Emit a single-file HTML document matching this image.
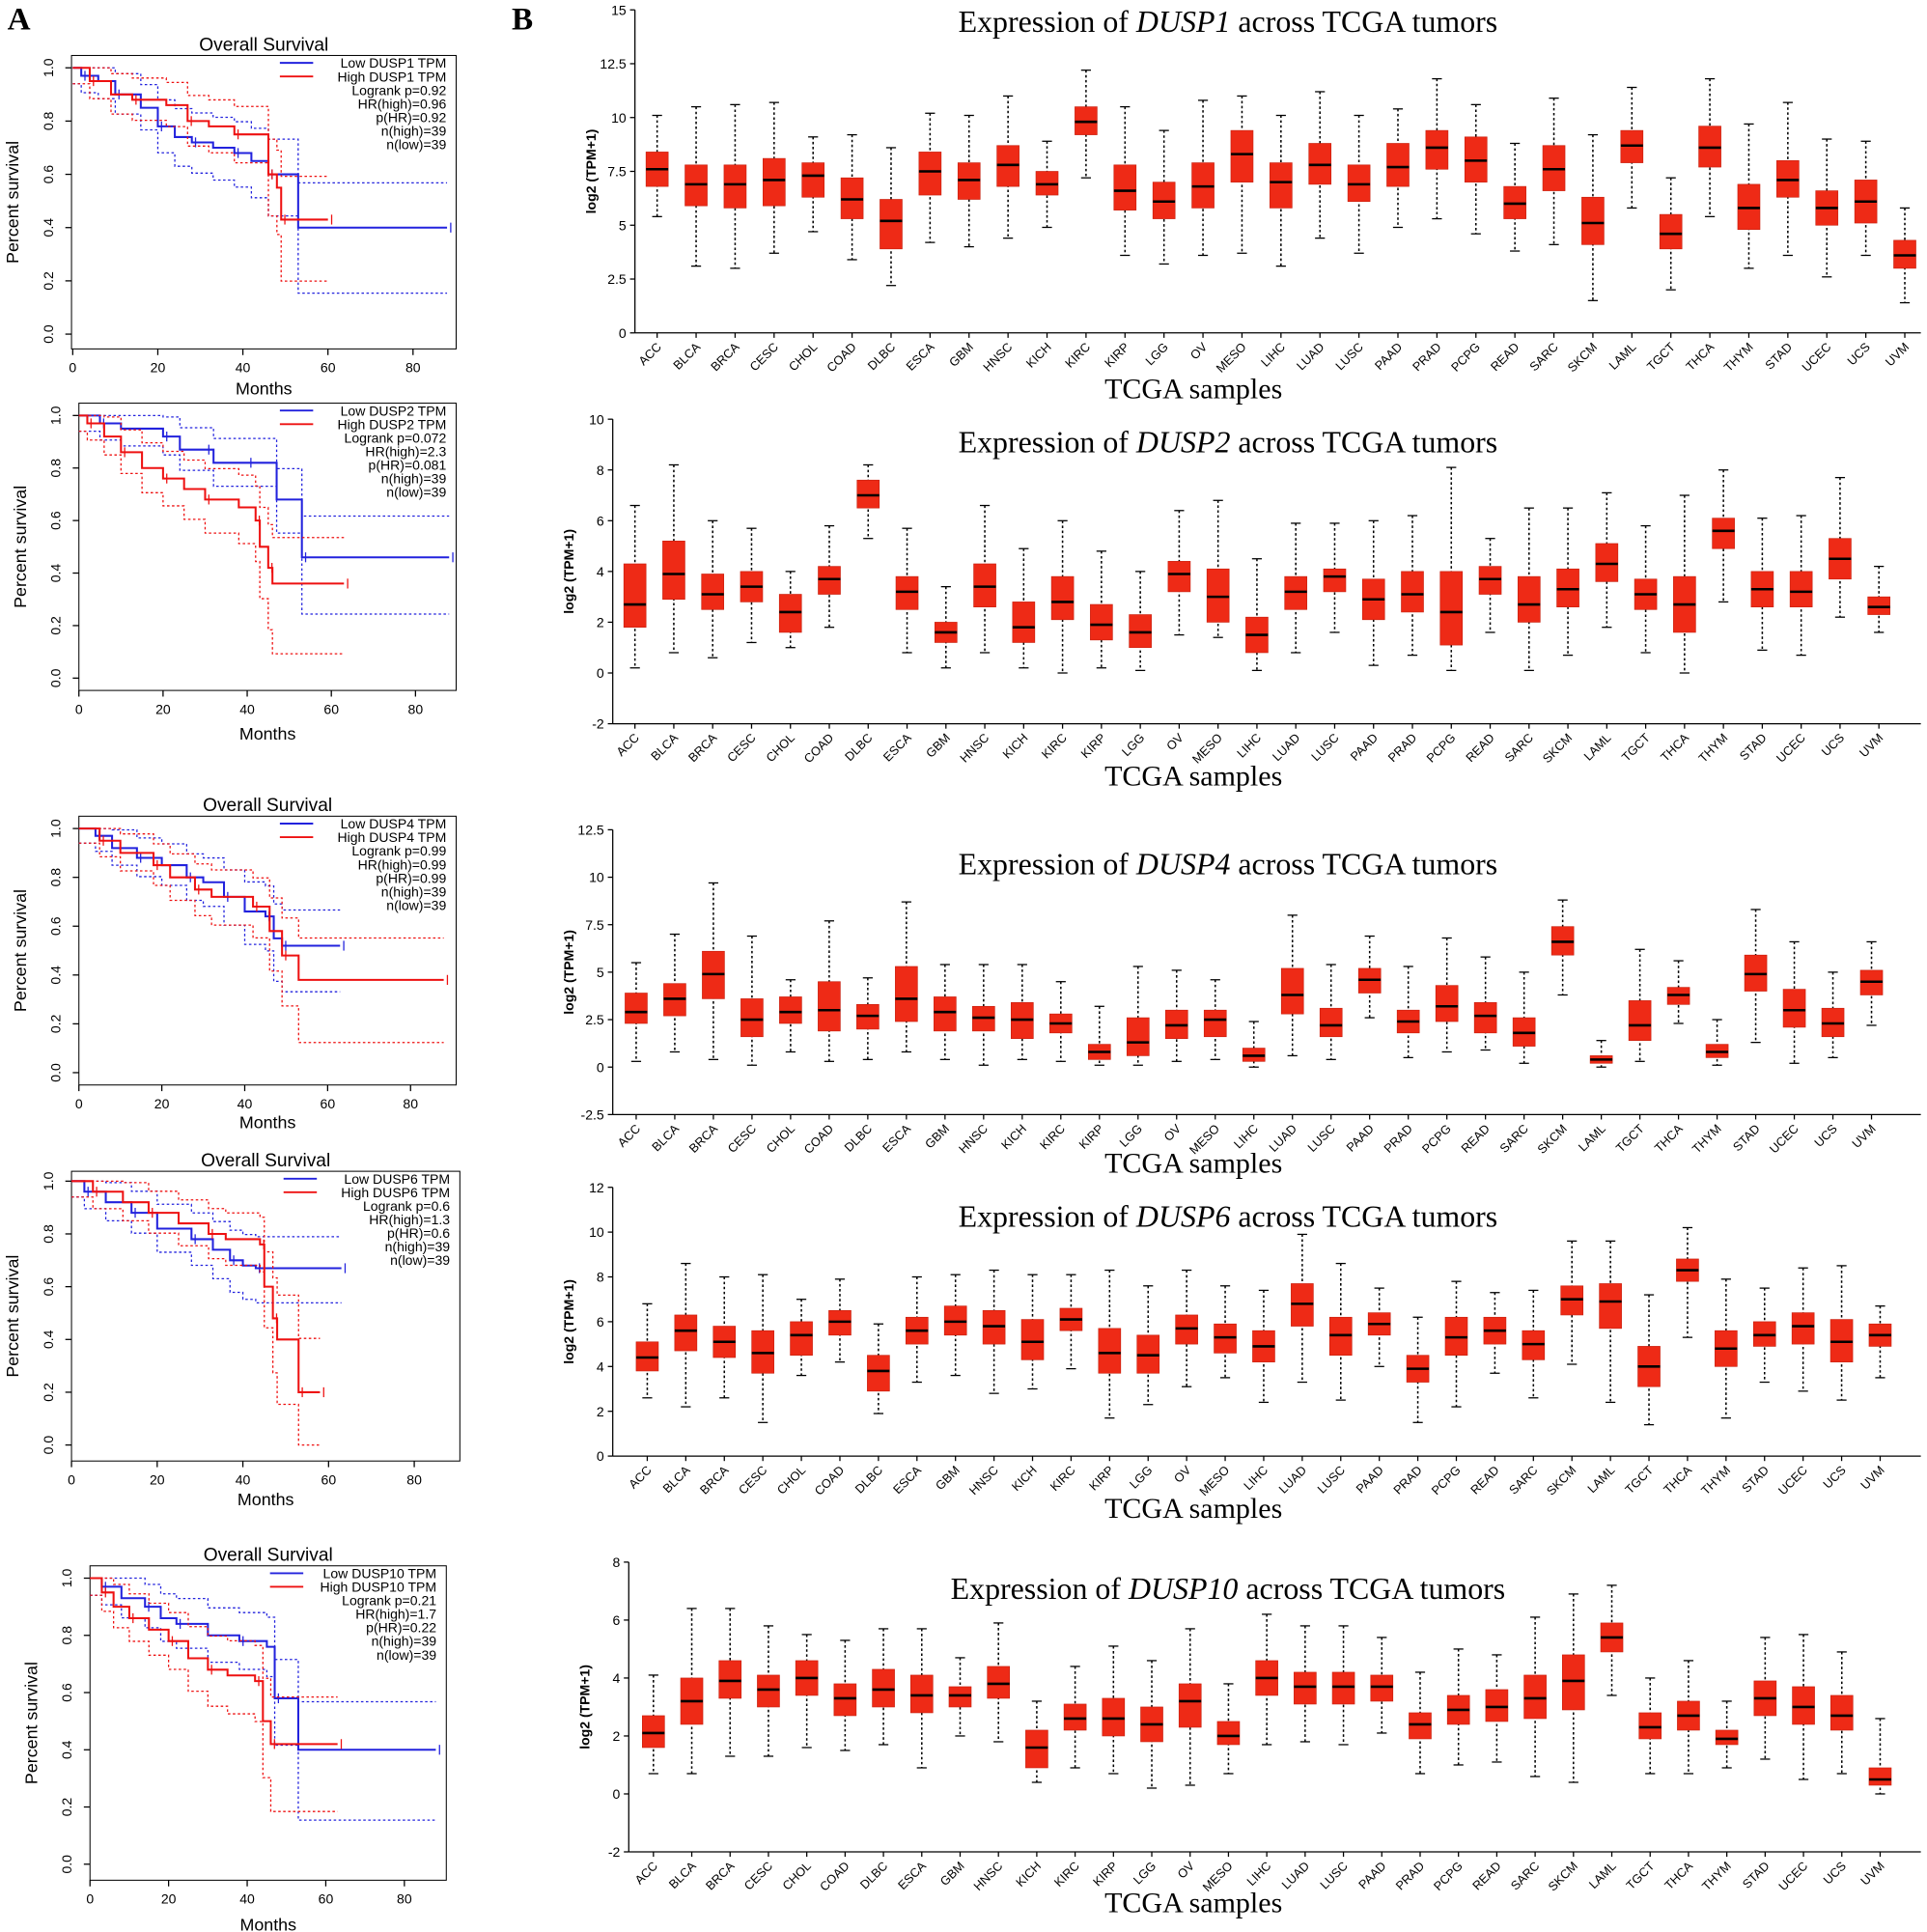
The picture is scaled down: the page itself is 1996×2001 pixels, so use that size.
<!DOCTYPE html>
<html><head><meta charset="utf-8"><style>
html,body{margin:0;padding:0;background:#fff}
svg{display:block}
</style></head><body>
<svg id="s" xmlns="http://www.w3.org/2000/svg" width="1996" height="2001" viewBox="0 0 1563 1567" preserveAspectRatio="none">
<rect width="1563" height="1567" fill="#fff"/>
<text x="6" y="24" font-family="Liberation Serif,serif" font-weight="bold" font-size="26">A</text>
<text x="415" y="24" font-family="Liberation Serif,serif" font-weight="bold" font-size="26">B</text>
<g id="g"></g>
</svg>
<script>
var NS="http://www.w3.org/2000/svg",G=document.getElementById('g');
function el(t,a,txt){var e=document.createElementNS(NS,t);for(var k in a)e.setAttribute(k,a[k]);if(txt!==undefined)e.textContent=txt;G.appendChild(e);return e;}
var cats="ACC BLCA BRCA CESC CHOL COAD DLBC ESCA GBM HNSC KICH KIRC KIRP LGG OV MESO LIHC LUAD LUSC PAAD PRAD PCPG READ SARC SKCM LAML TGCT THCA THYM STAD UCEC UCS UVM".split(" ");
var SANS="Liberation Sans,sans-serif",SERIF="Liberation Serif,serif";
function boxplot(o){
 var sy=function(v){return o.y0-(v-o.v0)*(o.y0-o.y1)/(o.v1-o.v0);};
 el('line',{x1:o.ax,y1:o.y1,x2:o.ax,y2:o.y0,stroke:'#000','stroke-width':1});
 el('line',{x1:o.ax,y1:o.y0,x2:1558,y2:o.y0,stroke:'#000','stroke-width':1});
 o.ticks.forEach(function(t){var y=sy(t);el('line',{x1:o.ax-4,y1:y,x2:o.ax,y2:y,stroke:'#000'});
  el('text',{x:o.ax-7,y:y+4,'text-anchor':'end','font-family':SANS,'font-size':11},String(t));});
 el('text',{transform:'translate('+(o.ax-32)+','+((o.y0+o.y1)/2)+') rotate(-90)','text-anchor':'middle','font-family':SANS,'font-size':11,'font-weight':'bold'},'log2 (TPM+1)');
 var t=el('text',{x:996,y:o.ty,'text-anchor':'middle','font-family':SERIF,'font-size':25});
 var a=document.createElementNS(NS,'tspan');a.textContent='Expression of ';t.appendChild(a);
 var b=document.createElementNS(NS,'tspan');b.setAttribute('font-style','italic');b.textContent=o.gene;t.appendChild(b);
 var c=document.createElementNS(NS,'tspan');c.textContent=' across TCGA tumors';t.appendChild(c);
 var dx=(o.xN-o.x0)/32;
 o.d.forEach(function(r,i){var x=o.x0+i*dx;
  el('line',{x1:x,y1:sy(r[4]),x2:x,y2:sy(r[3]),stroke:'#000','stroke-width':1.2,'stroke-dasharray':'2,2'});
  el('line',{x1:x-4,y1:sy(r[4]),x2:x+4,y2:sy(r[4]),stroke:'#000'});
  el('line',{x1:x-4,y1:sy(r[3]),x2:x+4,y2:sy(r[3]),stroke:'#000'});
  el('rect',{x:x-9,y:sy(r[2]),width:18,height:sy(r[1])-sy(r[2]),fill:'#ee2a16',stroke:'#c8200f','stroke-width':0.5});
  el('line',{x1:x-9,y1:sy(r[0]),x2:x+9,y2:sy(r[0]),stroke:'#000','stroke-width':2});
  el('line',{x1:x,y1:o.y0,x2:x,y2:o.y0+4,stroke:'#000'});
  el('text',{transform:'translate('+(x+4)+','+(o.y0+12)+') rotate(-45)','text-anchor':'end','font-family':SANS,'font-size':10},cats[i]);
 });
 el('text',{x:968,y:o.sy,'text-anchor':'middle','font-family':SERIF,'font-size':23.5},'TCGA samples');
}
function P(s){return s.trim().split(/\n/).map(function(l){return l.trim().split(/\s+/).map(Number);});}
boxplot({gene:'DUSP1',ax:515,y0:270,y1:8,v0:0,v1:15,ticks:[0,2.5,5,7.5,10,12.5,15],ty:26,sy:323,x0:533,xN:1545,d:P(`7.6 6.8 8.4 5.4 10.1
6.9 5.9 7.8 3.1 10.5
6.9 5.8 7.8 3 10.6
7.1 5.9 8.1 3.7 10.7
7.3 6.3 7.9 4.7 9.1
6.2 5.3 7.2 3.4 9.2
5.2 3.9 6.2 2.2 8.6
7.5 6.4 8.4 4.2 10.2
7.1 6.2 7.9 4 10.1
7.8 6.8 8.7 4.4 11
6.9 6.4 7.5 4.9 8.9
9.8 9.2 10.5 7.2 12.2
6.6 5.7 7.8 3.6 10.5
6.1 5.3 7 3.2 9.4
6.8 5.8 7.9 3.6 10.8
8.3 7 9.4 3.7 11
7 5.8 7.9 3.1 10.1
7.8 6.9 8.8 4.4 11.2
6.9 6.1 7.8 3.7 10.1
7.7 6.8 8.8 4.9 10.4
8.6 7.6 9.4 5.3 11.8
8 7 9.1 4.6 10.6
6 5.3 6.8 3.8 8.8
7.6 6.6 8.7 4.1 10.9
5.1 4.1 6.3 1.5 9.2
8.7 7.9 9.4 5.8 11.4
4.6 3.9 5.5 2 7.2
8.6 7.7 9.6 5.4 11.8
5.8 4.8 6.9 3 9.7
7.1 6.3 8 3.6 10.7
5.8 5 6.6 2.6 9
6.1 5.1 7.1 3.6 8.9
3.6 3 4.3 1.4 5.8`)});
boxplot({gene:'DUSP2',ax:497,y0:587,y1:340,v0:-2,v1:10,ticks:[-2,0,2,4,6,8,10],ty:367,sy:637,x0:515,xN:1524,d:P(`2.7 1.8 4.3 0.2 6.6
3.9 2.9 5.2 0.8 8.2
3.1 2.5 3.9 0.6 6
3.4 2.8 4 1.2 5.7
2.4 1.6 3.1 1 4
3.7 3.1 4.2 1.8 5.8
7 6.5 7.6 5.3 8.2
3.2 2.5 3.8 0.8 5.7
1.6 1.2 2 0.2 3.4
3.4 2.6 4.3 0.8 6.6
1.8 1.2 2.8 0.2 4.9
2.8 2.1 3.8 0 6
1.9 1.3 2.7 0.2 4.8
1.6 1 2.3 0.1 4
3.9 3.2 4.4 1.5 6.4
3 2 4.1 1.4 6.8
1.5 0.8 2.2 0.1 4.5
3.2 2.5 3.8 0.8 5.9
3.8 3.2 4.1 1.6 5.9
2.9 2.1 3.7 0.3 6
3.1 2.4 4 0.7 6.2
2.4 1.1 4 0.1 8.1
3.7 3.1 4.2 1.6 5.3
2.7 2 3.8 0.1 6.5
3.3 2.6 4.1 0.7 6.5
4.3 3.6 5.1 1.8 7.1
3.1 2.5 3.7 0.8 5.8
2.7 1.6 3.8 0 7
5.6 4.9 6.1 2.8 8
3.3 2.6 4 0.9 6.1
3.2 2.6 4 0.7 6.2
4.5 3.7 5.3 2.2 7.7
2.6 2.3 3 1.6 4.2`)});
boxplot({gene:'DUSP4',ax:497,y0:904,y1:673,v0:-2.5,v1:12.5,ticks:[-2.5,0,2.5,5,7.5,10,12.5],ty:709,sy:951,x0:516,xN:1518,d:P(`2.9 2.3 3.9 0.3 5.5
3.6 2.7 4.4 0.8 7
4.9 3.6 6.1 0.4 9.7
2.5 1.6 3.6 0.1 6.9
2.9 2.3 3.7 0.8 4.6
3 1.9 4.5 0.3 7.7
2.7 2 3.3 0.4 4.7
3.6 2.4 5.3 0.8 8.7
2.9 1.9 3.7 0.4 5.4
2.6 1.9 3.2 0.1 5.4
2.5 1.5 3.4 0.4 5.4
2.3 1.8 2.8 0.3 4.5
0.8 0.4 1.2 0.1 3.2
1.3 0.6 2.6 0.1 5.3
2.2 1.5 3 0.3 5.1
2.5 1.6 3 0.4 4.6
0.6 0.3 1 0 2.4
3.8 2.8 5.2 0.6 8
2.2 1.6 3.1 0.4 5.4
4.6 3.9 5.2 2.6 6.9
2.4 1.8 3 0.5 5.3
3.2 2.4 4.3 0.8 6.8
2.7 1.8 3.4 0.9 5.8
1.8 1.1 2.6 0.2 5
6.6 5.9 7.4 3.8 8.8
0.4 0.2 0.6 0 1.4
2.2 1.4 3.5 0.3 6.2
3.8 3.3 4.2 2.3 5.6
0.8 0.5 1.2 0.1 2.5
4.9 4 5.9 1.3 8.3
3 2.1 4.1 0.2 6.6
2.3 1.6 3.1 0.5 5
4.5 3.8 5.1 2.2 6.6`)});
boxplot({gene:'DUSP6',ax:497,y0:1181,y1:963,v0:0,v1:12,ticks:[0,2,4,6,8,10,12],ty:995,sy:1231,x0:525,xN:1525,d:P(`4.4 3.8 5.1 2.6 6.8
5.6 4.7 6.3 2.2 8.6
5.1 4.4 5.8 2.6 8
4.6 3.7 5.6 1.5 8.1
5.4 4.5 6 3.6 7
6 5.4 6.5 4.2 7.9
3.8 2.9 4.5 1.9 5.9
5.6 5 6.2 3.3 8
6 5.4 6.7 3.6 8.1
5.8 5 6.5 2.8 8.3
5.1 4.3 6.1 3 8.1
6.1 5.6 6.6 3.9 8.1
4.6 3.7 5.7 1.7 8.3
4.5 3.7 5.4 2.3 7.6
5.7 5 6.3 3.1 8.3
5.3 4.6 5.9 3.5 7.6
4.9 4.2 5.6 2.4 7.4
6.8 5.8 7.7 3.3 9.9
5.4 4.5 6.2 2.5 8.6
5.9 5.4 6.4 4 7.5
3.9 3.3 4.5 1.5 6.2
5.3 4.5 6.2 2.2 7.8
5.6 5 6.2 3.7 7.3
5 4.3 5.6 2.6 7.4
7 6.3 7.6 4.1 9.6
6.9 5.7 7.7 2.4 9.6
4 3.1 4.9 1.4 7.2
8.3 7.8 8.8 5.3 10.2
4.8 4 5.6 1.7 7.9
5.4 4.9 6 3.3 7.5
5.8 5 6.4 2.9 8.4
5.1 4.2 6.1 2.5 8.5
5.4 4.9 5.9 3.5 6.7`)});
boxplot({gene:'DUSP10',ax:510,y0:1502,y1:1267,v0:-2,v1:8,ticks:[-2,0,2,4,6,8],ty:1297,sy:1551,x0:530,xN:1525,d:P(`2.1 1.6 2.7 0.7 4.1
3.2 2.4 4 0.7 6.4
3.9 3.3 4.6 1.3 6.4
3.6 3 4.1 1.3 5.8
4 3.4 4.6 1.6 5.5
3.3 2.7 3.8 1.5 5.3
3.6 3 4.3 1.7 5.7
3.4 2.8 4.1 0.9 5.7
3.4 3 3.7 2 4.7
3.8 3.3 4.4 1.8 5.9
1.6 0.9 2.2 0.4 3.2
2.6 2.2 3.1 0.9 4.4
2.6 2 3.3 0.7 5.1
2.4 1.8 3 0.2 4.6
3.2 2.3 3.8 0.3 5.7
2 1.7 2.5 0.7 3.8
4 3.4 4.6 1.7 6.2
3.7 3.1 4.2 1.8 5.8
3.7 3.1 4.2 1.7 5.8
3.7 3.2 4.1 2.1 5.4
2.4 1.9 2.8 0.7 4.2
2.9 2.4 3.4 1 5
3 2.5 3.6 1.1 4.8
3.3 2.6 4.1 0.6 6.1
3.9 2.9 4.8 0.4 6.9
5.4 4.9 5.9 3.4 7.2
2.3 1.9 2.8 0.7 4
2.7 2.2 3.2 0.7 4.6
1.9 1.7 2.2 0.9 3.2
3.3 2.7 3.9 1.2 5.4
3 2.4 3.7 0.5 5.5
2.7 2.2 3.4 0.7 4.9
0.5 0.3 0.9 0 2.6`)});

function km(o){
 var sx=function(m){return o.x0+m*(o.x80-o.x0)/80;},sy=function(v){return o.y0-v*(o.y0-o.y1);};
 el('rect',{x:o.fx,y:o.fy,width:o.fw,height:o.fh,fill:'none',stroke:'#000','stroke-width':0.8});
 if(o.title)el('text',{x:o.fx+o.fw/2,y:o.fy-4,'text-anchor':'middle','font-family':SANS,'font-size':15},'Overall Survival');
 [0,20,40,60,80].forEach(function(t){var x=sx(t);el('line',{x1:x,y1:o.fy+o.fh,x2:x,y2:o.fy+o.fh+5,stroke:'#000'});
  el('text',{x:x,y:o.fy+o.fh+19,'text-anchor':'middle','font-family':SANS,'font-size':11},String(t));});
 [0,.2,.4,.6,.8,1].forEach(function(v){var y=sy(v);el('line',{x1:o.fx-5,y1:y,x2:o.fx,y2:y,stroke:'#000'});
  el('text',{transform:'translate('+(o.fx-15)+','+y+') rotate(-90)','text-anchor':'middle','font-family':SANS,'font-size':11},v.toFixed(1));});
 el('text',{x:o.fx+o.fw/2,y:o.my,'text-anchor':'middle','font-family':SANS,'font-size':14},'Months');
 el('text',{transform:'translate('+(o.fx-43)+','+(o.fy+o.fh/2)+') rotate(-90)','text-anchor':'middle','font-family':SANS,'font-size':14},'Percent survival');
 function path(pts,f){var d='';pts.forEach(function(p,i){var v=f(p[1]);if(i==0)d='M'+sx(p[0])+','+sy(v);else d+='H'+sx(p[0])+'V'+sy(v);});return d;}
 [['#2222dd',o.blue],['#ee1111',o.red]].forEach(function(c){
  var pts=c[1];pts=pts.concat([[o[c[0]=='#2222dd'?'be':'re'],pts[pts.length-1][1]]]);
  el('path',{d:path(pts,function(s){return Math.min(1,s+0.06+0.18*(1-s));}),fill:'none',stroke:c[0],'stroke-width':1,'stroke-dasharray':'2,2'});
  el('path',{d:path(pts,function(s){return Math.max(0,s-0.06-0.35*(1-s)*(1-s)-0.1*(1-s));}),fill:'none',stroke:c[0],'stroke-width':1,'stroke-dasharray':'2,2'});
  el('path',{d:path(pts,function(s){return s;}),fill:'none',stroke:c[0],'stroke-width':1.6});
  pts.forEach(function(p,i){if(i%2==1||i==pts.length-1){var x=sx(p[0])+3,y=sy(p[1]);el('line',{x1:x,y1:y-4,x2:x,y2:y+4,stroke:c[0]});}});
 });
 var lx=o.fx+o.fw-8,ly=o.fy+10;
 el('line',{x1:lx-135,y1:ly-4,x2:lx-108,y2:ly-4,stroke:'#2222dd','stroke-width':1.5});
 el('line',{x1:lx-135,y1:ly+7,x2:lx-108,y2:ly+7,stroke:'#ee1111','stroke-width':1.5});
 var L=['Low '+o.g+' TPM','High '+o.g+' TPM'].concat(o.st);
 L.forEach(function(s,i){el('text',{x:lx,y:ly+i*11,'text-anchor':'end','font-family':SANS,'font-size':11},s);});
}
function st(a,b,c){return ['Logrank p='+a,'HR(high)='+b,'p(HR)='+c,'n(high)=39','n(low)=39'];}
km({g:'DUSP1',title:1,fx:58,fy:45,fw:312,fh:238,x0:59,x80:335,y0:271,y1:55,my:320,st:st('0.92','0.96','0.92'),be:88,re:60,
 blue:[[0,1],[2,.97],[6,.95],[10,.9],[16,.85],[20,.78],[24,.74],[28,.72],[33,.7],[38,.68],[42,.65],[46,.6],[53,.4]],
 red:[[0,1],[4,.95],[9,.9],[14,.88],[22,.86],[27,.8],[32,.78],[38,.75],[44,.75],[46,.6],[48,.55],[49,.43]]});
km({g:'DUSP2',fx:64,fy:327,fw:306,fh:233,x0:64,x80:337,y0:550,y1:337,my:600,st:st('0.072','2.3','0.081'),be:88,re:63,
 blue:[[0,1],[5,.97],[10,.95],[20,.92],[24,.87],[30,.87],[32,.82],[40,.82],[47,.68],[53,.46]],
 red:[[0,1],[2,.97],[6,.92],[10,.86],[15,.8],[20,.76],[25,.72],[30,.68],[38,.65],[42,.6],[43,.5],[45,.42],[46,.36]]});
km({g:'DUSP4',title:1,fx:64,fy:662,fw:306,fh:218,x0:64,x80:333,y0:870,y1:672,my:915,st:st('0.99','0.99','0.99'),be:63,re:88,
 blue:[[0,1],[4,.97],[8,.92],[14,.88],[20,.85],[26,.8],[30,.78],[35,.72],[40,.66],[45,.64],[47,.55],[49,.52]],
 red:[[0,1],[5,.95],[10,.9],[18,.85],[22,.8],[28,.75],[32,.72],[42,.68],[46,.58],[49,.48],[53,.38]]});
km({g:'DUSP6',title:1,fx:58,fy:950,fw:315,fh:235,x0:58,x80:336,y0:1172,y1:958,my:1221,st:st('0.6','1.3','0.6'),be:63,re:58,
 blue:[[0,1],[3,.96],[8,.92],[14,.88],[20,.82],[28,.78],[33,.74],[37,.7],[40,.68],[43,.67]],
 red:[[0,1],[5,.96],[12,.92],[18,.88],[25,.84],[32,.8],[36,.78],[44,.76],[45,.6],[47,.48],[48,.4],[53,.2]]});
km({g:'DUSP10',title:1,fx:73,fy:1270,fw:289,fh:255,x0:73,x80:328,y0:1512,y1:1280,my:1566,st:st('0.21','1.7','0.22'),be:88,re:63,
 blue:[[0,1],[3,.97],[8,.93],[14,.9],[18,.86],[22,.84],[30,.8],[38,.78],[45,.76],[47,.58],[53,.4]],
 red:[[0,1],[3,.95],[6,.9],[10,.86],[15,.82],[20,.78],[25,.72],[30,.68],[35,.66],[42,.64],[44,.5],[46,.42]]});
</script>
</body></html>
